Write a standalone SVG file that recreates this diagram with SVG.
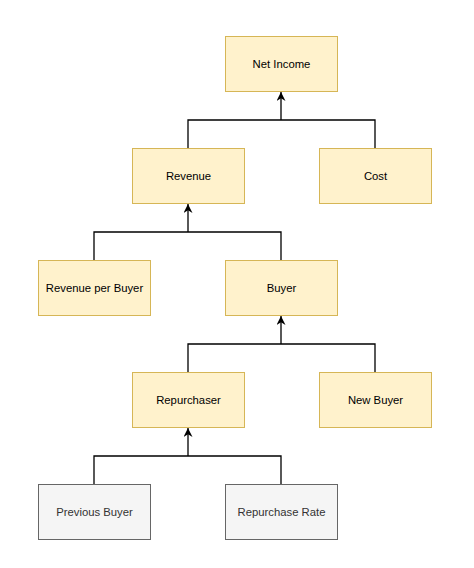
<svg xmlns="http://www.w3.org/2000/svg" width="474" height="568" viewBox="0 0 474 568">
<style>
.y{fill:#fff2cc;stroke:#d6b656;stroke-width:1}
.g{fill:#f5f5f5;stroke:#666666;stroke-width:1}
text{font-family:"Liberation Sans",Arial,sans-serif;font-size:11.3px;text-anchor:middle;dominant-baseline:central}
.t1{fill:#000000}
.t2{fill:#333333}
.c{fill:none;stroke:#000000;stroke-width:1.3}
</style>
<defs>
<marker id="a" viewBox="0 0 10 10" refX="10" refY="5" markerWidth="9" markerHeight="9" markerUnits="userSpaceOnUse" orient="auto">
<path d="M0,0 L10,5 L0,10 L3,5 Z" fill="#000000"/>
</marker>
</defs>
<rect width="474" height="568" fill="#ffffff"/>
<g id="connectors">
<path class="c" d="M188,148 V120 H375 V148 M281,120 V92" marker-end="url(#a)"/>
<path class="c" d="M94,260 V232 H281 V260 M188,232 V204" marker-end="url(#a)"/>
<path class="c" d="M188,372 V344 H375 V372 M281,344 V316" marker-end="url(#a)"/>
<path class="c" d="M94,484 V456 H281 V484 M188,456 V428" marker-end="url(#a)"/>
</g>
<g id="net-income"><rect class="y" x="225.5" y="36.5" width="112" height="55"/><text class="t1" x="281.5" y="64">Net Income</text></g>
<g id="revenue"><rect class="y" x="132.5" y="148.5" width="112" height="55"/><text class="t1" x="188.5" y="176">Revenue</text></g>
<g id="cost"><rect class="y" x="319.5" y="148.5" width="112" height="55"/><text class="t1" x="375.5" y="176">Cost</text></g>
<g id="revenue-per-buyer"><rect class="y" x="38.5" y="260.5" width="112" height="55"/><text class="t1" x="94.5" y="288">Revenue per Buyer</text></g>
<g id="buyer"><rect class="y" x="225.5" y="260.5" width="112" height="55"/><text class="t1" x="281.5" y="288">Buyer</text></g>
<g id="repurchaser"><rect class="y" x="132.5" y="372.5" width="112" height="55"/><text class="t1" x="188.5" y="400">Repurchaser</text></g>
<g id="new-buyer"><rect class="y" x="319.5" y="372.5" width="112" height="55"/><text class="t1" x="375.5" y="400">New Buyer</text></g>
<g id="previous-buyer"><rect class="g" x="38.5" y="484.5" width="112" height="55"/><text class="t2" x="94.5" y="512">Previous Buyer</text></g>
<g id="repurchase-rate"><rect class="g" x="225.5" y="484.5" width="112" height="55"/><text class="t2" x="281.5" y="512">Repurchase Rate</text></g>
</svg>
